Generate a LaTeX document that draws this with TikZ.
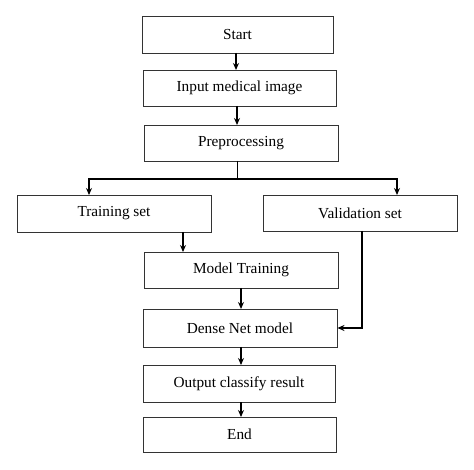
\documentclass[tikz,border=0pt]{standalone}
\usepackage{fontspec}
\setmainfont{Liberation Serif}
\usetikzlibrary{arrows.meta,calc}
\begin{document}
\begin{tikzpicture}[x=1pt,y=-1pt,
  box/.style={draw=black!80,line width=0.9pt,inner sep=0pt,font=\fontsize{15.3}{17}\selectfont},
  arr/.style={line width=1.4pt,-{Stealth[length=7pt,width=6pt]}},
  ln/.style={line width=1.4pt}]
\useasboundingbox (0,0) rectangle (474,470);
\newcommand{\bx}[6]{\node[box,minimum width=#4-#2,minimum height=#5-#3] (#1) at ({(#2+#4)/2},{(#3+#5)/2}) {#6};}
\bx{start}{142}{16}{333}{53}{Start}
\bx{input}{143}{70}{336}{106}{Input medical image}
\bx{pre}{144}{125}{338}{161}{Preprocessing}
\bx{train}{17}{195}{211}{232}{Training set}
\bx{val}{263}{195}{457}{231}{Validation set}
\bx{model}{144}{252}{338}{288}{Model Training}
\bx{dense}{143}{309}{337}{347}{Dense Net model}
\bx{out}{143}{365}{335}{402}{Output classify result}
\bx{end}{143}{417}{336}{452}{End}
\draw[arr] (236,53) -- (236,70);
\draw[arr] (237,106) -- (237,125);
\coordinate (split) at (237,179);
\draw[line width=0.9pt] (237,161) -- (split);
\draw[arr] (split) -| (89,195);
\draw[arr] (split) -| (397,195);
\draw[arr] (183,232) -- (183,252);
\draw[arr] (241,288) -- (241,309);
\draw[arr] (362,231) |- (dense.east);
\draw[arr] (241,347) -- (241,365);
\draw[arr] (241,402) -- (241,417);
\end{tikzpicture}
\end{document}
